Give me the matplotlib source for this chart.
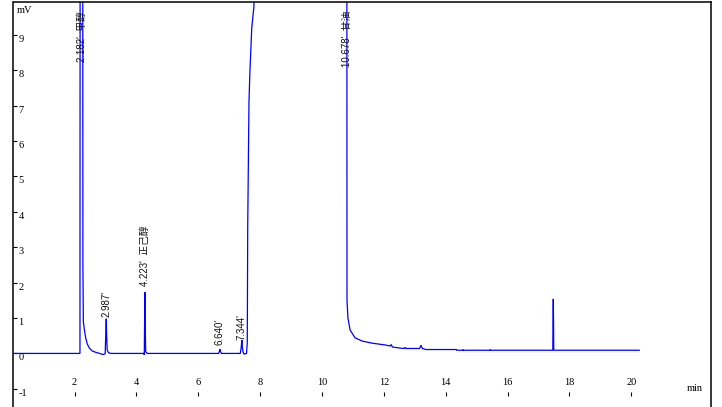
import matplotlib
matplotlib.use("Agg")
import matplotlib.pyplot as plt

# ---- data ----
time_min = [0.03, 2.175, 2.18, 2.265, 2.27, 2.285, 2.32, 2.36, 2.41, 2.48, 2.57, 2.69, 2.81, 2.91, 2.99,
            3.01, 3.025, 3.04, 3.055, 3.09, 3.16,
            4.24, 4.255, 4.265, 4.275, 4.285, 4.30, 4.35,
            6.66, 6.685, 6.70, 6.72, 6.75,
            7.36, 7.39, 7.41, 7.425, 7.445, 7.48, 7.56, 7.585, 7.60, 7.64, 7.67, 7.73, 7.80, 7.84,
            10.805, 10.81, 10.84, 10.91, 11.07, 11.30, 11.62, 12.04, 12.20, 12.24, 12.28, 12.53, 12.66,
            12.69, 12.72, 13.16, 13.20, 13.25, 13.36, 14.35, 14.36, 14.55, 14.56, 14.57, 15.43, 15.44,
            15.45, 17.465, 17.47, 17.48, 17.49, 17.495, 20.26]
signal_mv = [0.0, 0.0, 12, 12, 2.5, 0.9, 0.66, 0.44, 0.27, 0.15, 0.07, 0.03, 0.0, -0.03, -0.01,
             0.55, 0.98, 0.45, 0.10, 0.03, 0.0,
             0.0, -0.04, 0.9, 1.73, 0.9, 0.05, 0.0,
             0.0, 0.07, 0.12, 0.05, 0.0,
             0.0, 0.18, 0.38, 0.2, 0.05, -0.02, 0.0, 0.3, 3.6, 7.1, 7.95, 9.2, 9.8, 12,
             12, 1.5, 1.0, 0.66, 0.44, 0.35, 0.29, 0.24, 0.21, 0.25, 0.18, 0.15, 0.14,
             0.17, 0.14, 0.14, 0.23, 0.14, 0.11, 0.11, 0.09, 0.09, 0.11, 0.09, 0.09, 0.11,
             0.09, 0.09, 0.75, 1.54, 0.75, 0.09, 0.09]

# where each peak label sits on the time axis, and its text
label_pos = [2.225, 3.025, 4.275, 6.70, 7.41, 10.81]
peak_labels = ["2.182'  甲醇", "2.987'", "4.223'  正己醇", "6.640'", "7.344'", "10.678'  甘油"]
label_base = [8.23, 1.03, 1.90, 0.24, 0.38, 8.10]

x_ticks = [2, 4, 6, 8, 10, 12, 14, 16, 18, 20]
y_ticks = [-1, 0, 1, 2, 3, 4, 5, 6, 7, 8, 9]
y_ticklabels = ["-1", "0", "1", "2", "3", "4", "5", "6", "7", "8", "9"]

# ---- figure ----
W, H = 722, 407
fig = plt.figure(figsize=(W / 100, H / 100), dpi=100)
ax = fig.add_axes([13.5 / W, 0, (711 - 13.5) / W, 1 - 2 / H])

serif = "Liberation Serif"
ann_fam = ["Liberation Sans", "Noto Sans CJK SC", "DejaVu Sans"]

ax.plot(time_min, signal_mv, color="#0000ff", lw=0.9, solid_joinstyle="miter")

ax.set_xlim(0.026, 22.58)
ax.set_ylim(-1.514, 9.93)

for s in ["left", "top", "right"]:
    ax.spines[s].set_linewidth(1.1)
    ax.spines[s].set_color("black")
ax.spines["bottom"].set_visible(False)
ax.spines["bottom"].set_position(("data", -1.08))

ax.set_xticks(x_ticks)
ax.set_xticklabels([str(v) for v in x_ticks], fontfamily=serif, fontsize=7.5)
ax.tick_params(axis="x", direction="out", length=3, width=0.8, pad=-12.5, colors="black")

ax.set_yticks(y_ticks)
ax.set_yticklabels(y_ticklabels, fontfamily=serif, fontsize=7.5)
ax.tick_params(axis="y", direction="in", length=3, width=0.8, pad=-3.5, colors="black")
for lbl in ax.get_yticklabels():
    lbl.set_horizontalalignment("left")
    lbl.set_verticalalignment("top")

ax.text(3 / (711 - 13.5), 1 - 4 / 405, "mV", transform=ax.transAxes, ha="left", va="top",
        fontfamily=serif, fontsize=7.5)
ax.text(1 - 8 / (711 - 13.5), 0.045, "min", transform=ax.transAxes, ha="right", va="center",
        fontfamily=serif, fontsize=7.5)

for t, lab, b in zip(label_pos, peak_labels, label_base):
    ax.text(t, b, lab, rotation=90, ha="center", va="bottom", fontsize=7,
            family=ann_fam, color="#111111")

fig.savefig("out.png", dpi=100)
